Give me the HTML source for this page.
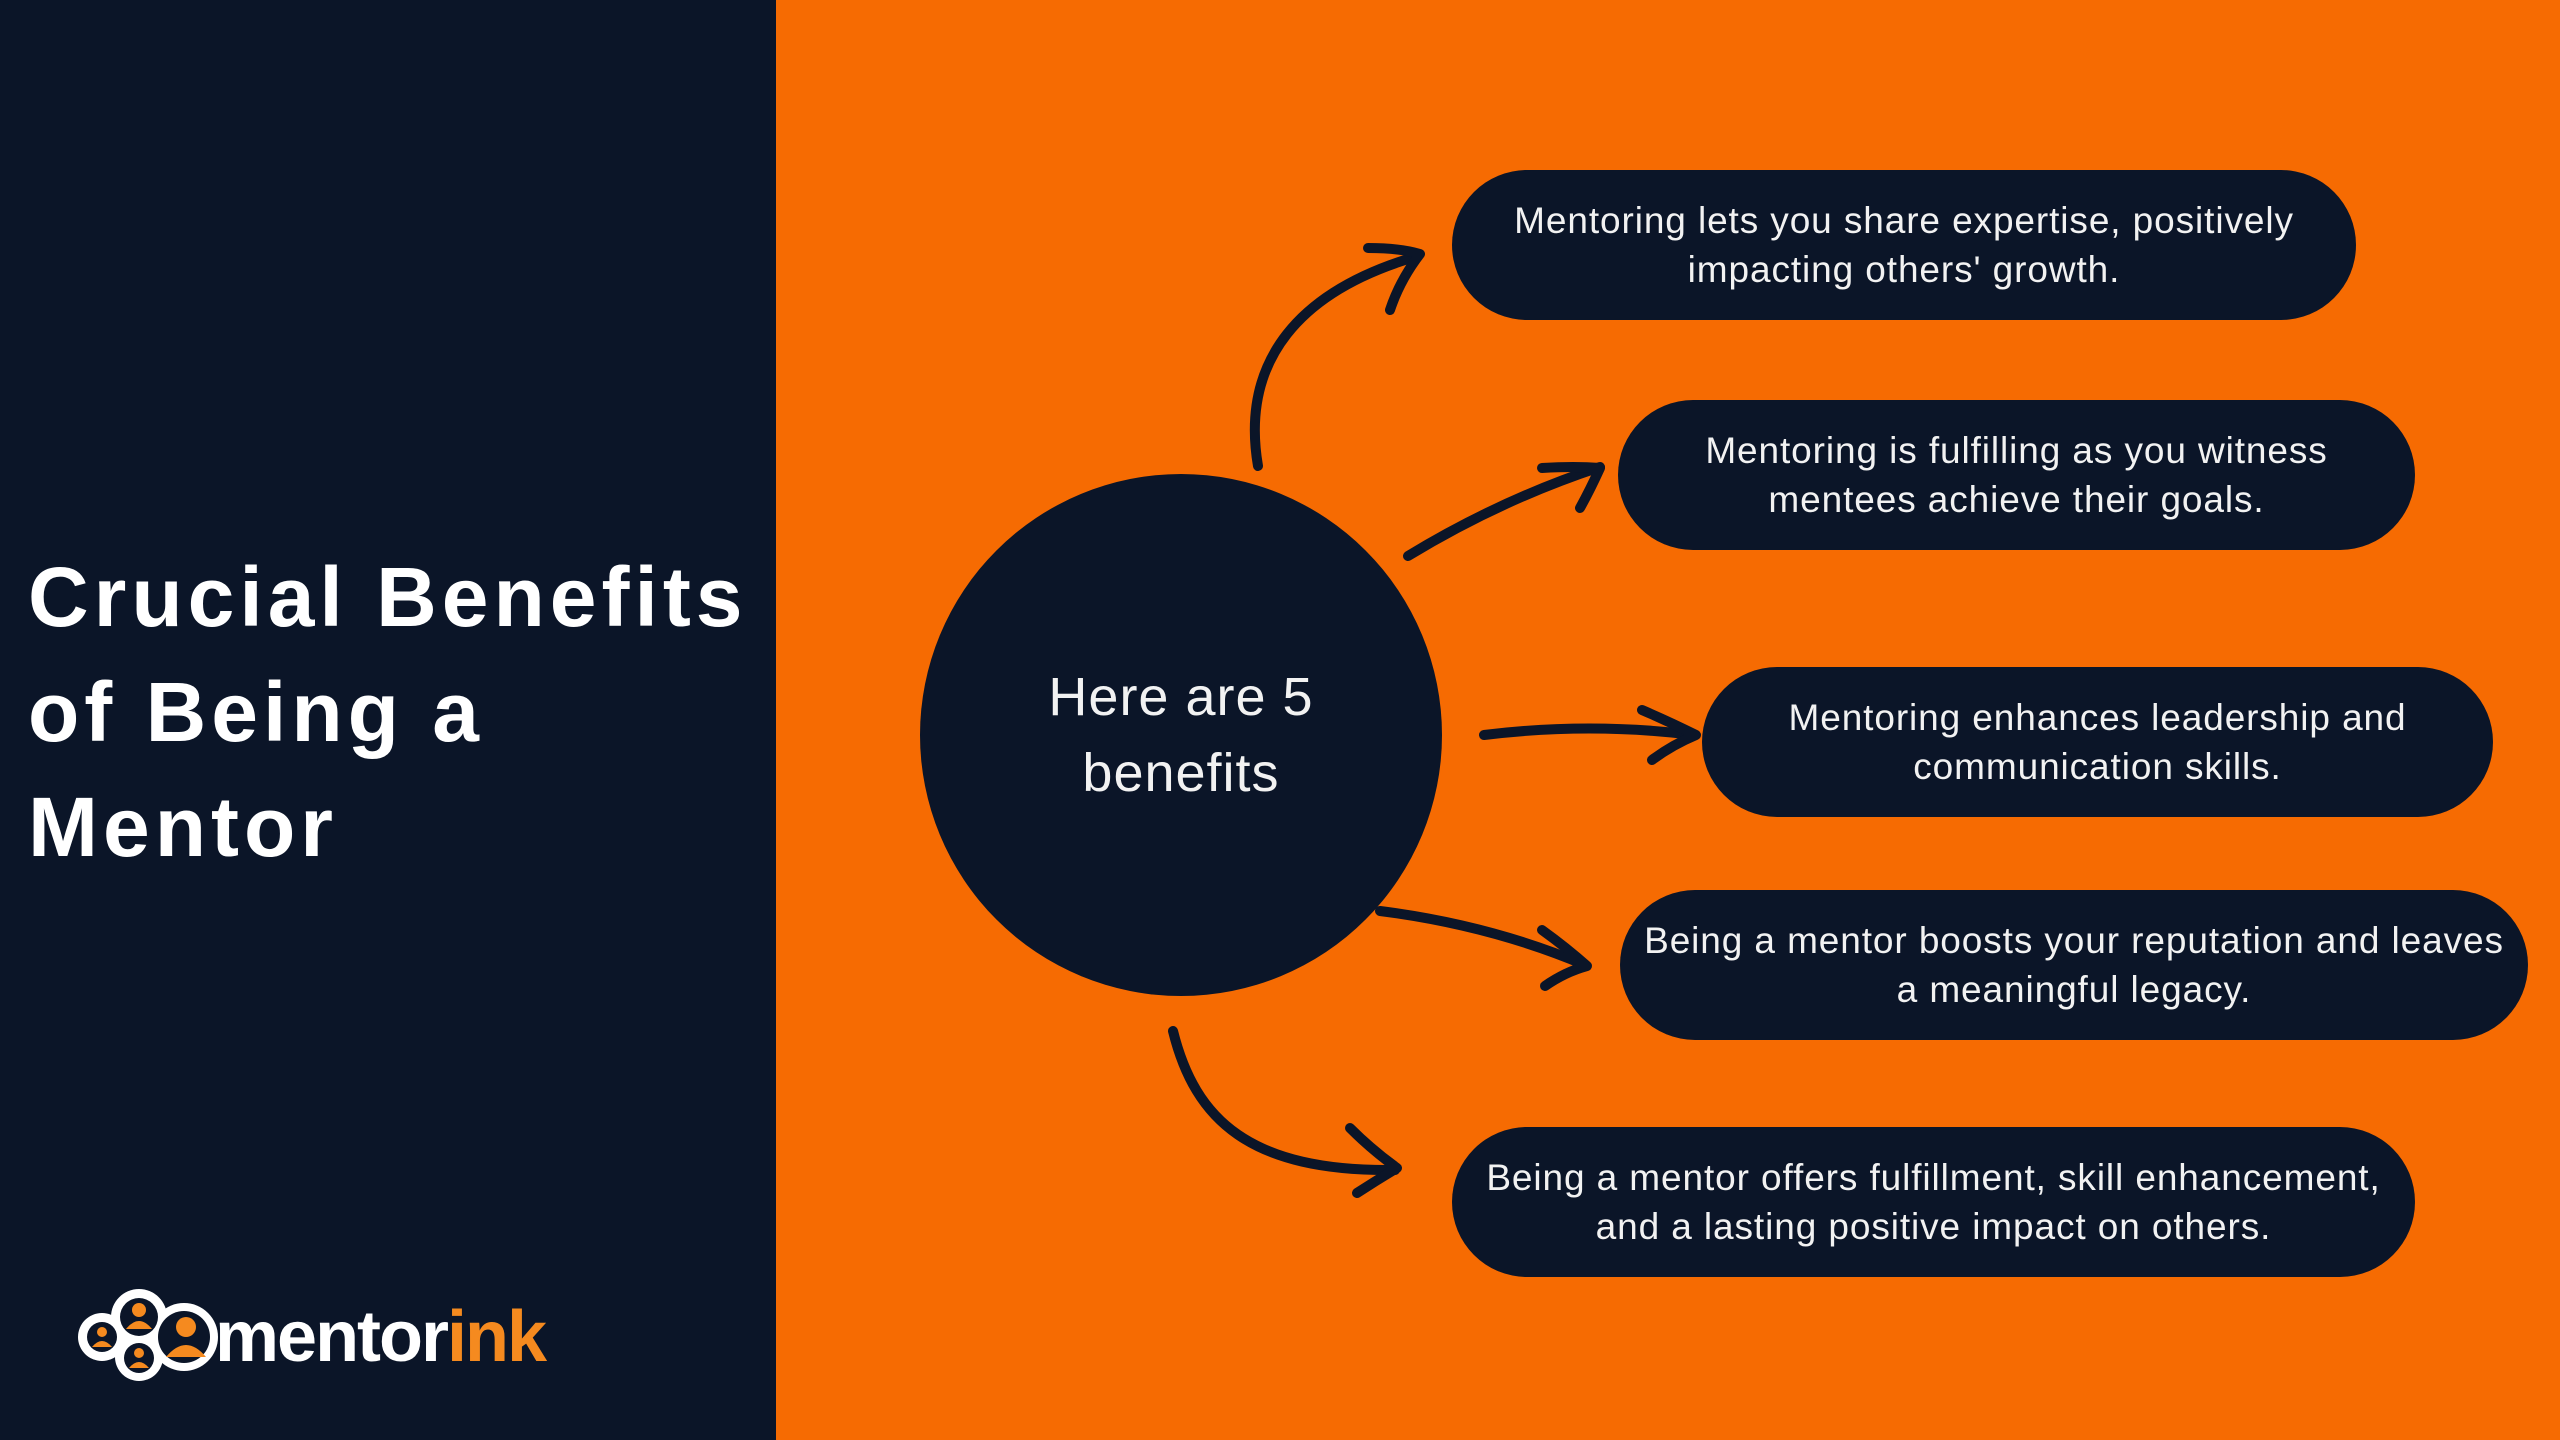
<!DOCTYPE html>
<html><head><meta charset="utf-8"><style>
html,body{margin:0;padding:0}
body{width:2560px;height:1440px;position:relative;overflow:hidden;background:#f66b02;font-family:"Liberation Sans","DejaVu Sans",sans-serif}
.left{position:absolute;left:0;top:0;width:776px;height:1440px;background:#0b1528}
.title{position:absolute;left:28px;top:540px;color:#fff;font-weight:bold;font-size:84px;line-height:115px;letter-spacing:5px}
.pill{position:absolute;background:#0b1528;border-radius:76px;color:#f2f2f2;display:flex;align-items:center;justify-content:center;text-align:center;font-size:37px;line-height:49px;letter-spacing:0.9px}
.circle{position:absolute;left:920px;top:474px;width:522px;height:522px;border-radius:50%;background:#0b1528;color:#f2f2f2;display:flex;align-items:center;justify-content:center;text-align:center;font-size:54px;line-height:76px;letter-spacing:1px}
.logo{position:absolute;left:215px;top:1292px;font-size:72px;font-weight:bold;color:#fff;letter-spacing:-2px;line-height:90px}
.logo span{color:#f58a1f}
</style></head><body>
<div class="left"></div>
<div class="title">Crucial Benefits<br>of Being a<br>Mentor</div>

<svg style="position:absolute;left:74px;top:1285px" width="150" height="100" viewBox="0 0 150 100">
<g fill="#fff">
<circle cx="28" cy="52" r="24"/><circle cx="65" cy="32" r="28"/><circle cx="65" cy="72" r="24"/><circle cx="110" cy="52" r="34"/>
</g>
<g fill="#0b1528">
<circle cx="28" cy="52" r="15"/><circle cx="65" cy="32" r="19"/><circle cx="65" cy="73" r="15"/><circle cx="110" cy="52" r="26"/>
</g>
<g fill="#f58a1f">
<circle cx="28" cy="47" r="5"/><path d="M18 62 q10-12 20 0z"/>
<circle cx="65" cy="25" r="7"/><path d="M52 44 q13-16 26 0z"/>
<circle cx="65" cy="68" r="5"/><path d="M55 83 q10-12 20 0z"/>
<circle cx="112" cy="42" r="10"/><path d="M92 72 q20-24 40 0z"/>
</g>
</svg>
<div class="logo">mentor<span>ink</span></div>

<div class="circle">Here are 5<br>benefits</div>

<div class="pill" style="left:1452px;top:170px;width:904px;height:150px">Mentoring lets you share expertise, positively<br>impacting others' growth.</div>
<div class="pill" style="left:1618px;top:400px;width:797px;height:150px">Mentoring is fulfilling as you witness<br>mentees achieve their goals.</div>
<div class="pill" style="left:1702px;top:667px;width:791px;height:150px">Mentoring enhances leadership and<br>communication skills.</div>
<div class="pill" style="left:1620px;top:890px;width:908px;height:150px">Being a mentor boosts your reputation and leaves<br>a meaningful legacy.</div>
<div class="pill" style="left:1452px;top:1127px;width:963px;height:150px">Being a mentor offers fulfillment, skill enhancement,<br>and a lasting positive impact on others.</div>

<svg style="position:absolute;left:0;top:0" width="2560" height="1440" viewBox="0 0 2560 1440">
<g fill="none" stroke="#0b1528" stroke-width="10" stroke-linecap="round" stroke-linejoin="round">
<path d="M1258,466 C1240,360 1300,290 1418,256"/>
<path d="M1368,248 Q1400,248 1420,254 Q1400,280 1390,310"/>
<path d="M1408,556 Q1500,500 1600,467"/>
<path d="M1542,468 Q1575,466 1600,468 Q1590,490 1580,508"/>
<path d="M1484,735 Q1590,722 1694,735"/>
<path d="M1642,710 Q1670,722 1696,735 Q1672,745 1652,760"/>
<path d="M1380,911 Q1490,925 1585,965"/>
<path d="M1542,930 Q1567,948 1587,966 Q1565,972 1545,986"/>
<path d="M1173,1031 C1195,1120 1250,1172 1395,1170"/>
<path d="M1350,1128 Q1372,1150 1397,1168 Q1377,1180 1357,1193"/>
</g>
</svg>
</body></html>
